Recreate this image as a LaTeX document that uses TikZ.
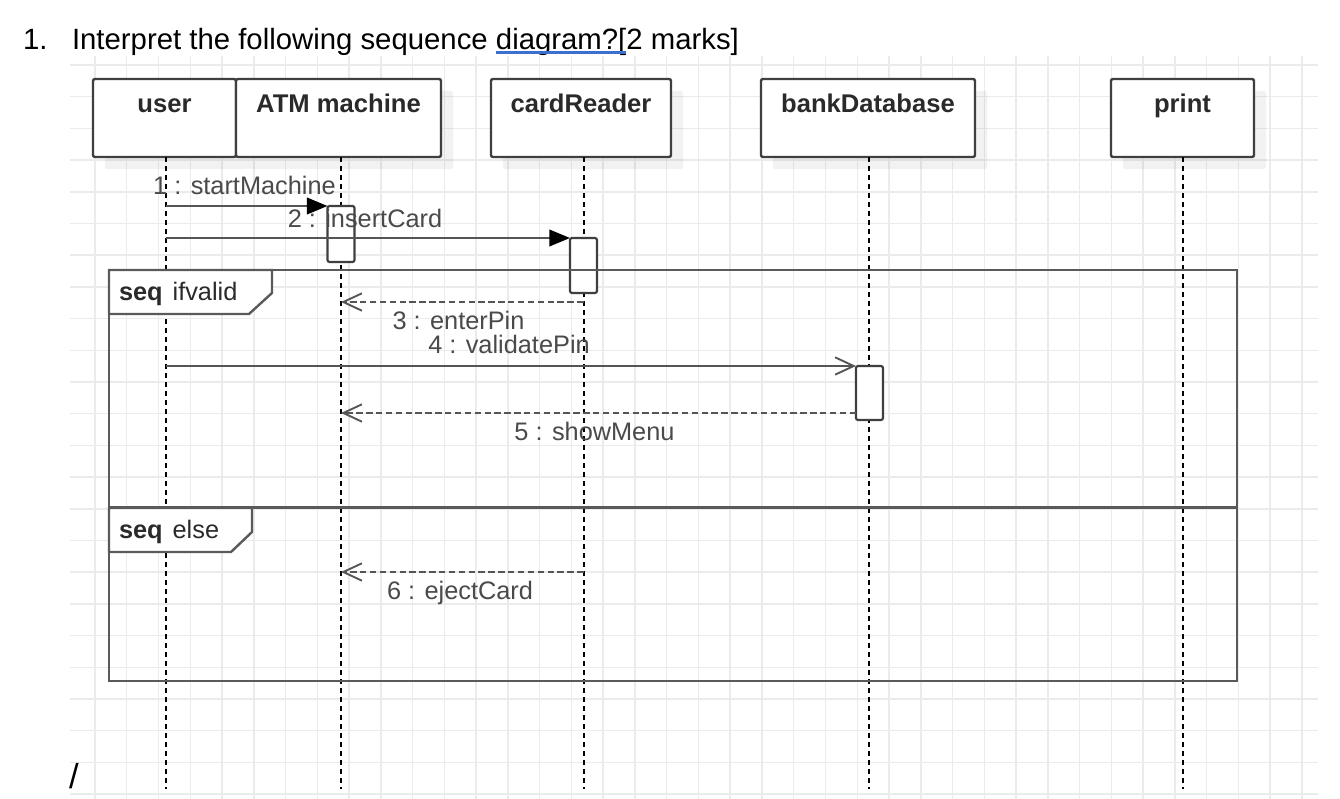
\documentclass[tikz,border=0pt]{standalone}
\usepackage{fontspec}
\setmainfont{Liberation Sans}
\usetikzlibrary{arrows.meta,shadows}
\definecolor{gridc}{HTML}{EBEBEB}
\definecolor{boxc}{HTML}{3F3F3F}
\definecolor{boxtext}{HTML}{2A2A2A}
\definecolor{framec}{HTML}{5A5A5A}
\definecolor{msgc}{HTML}{555555}
\definecolor{msgtext}{HTML}{4A4A4A}
\definecolor{ulblue}{HTML}{3D6FD0}
\newcommand\bxfont{\fontsize{19.2}{23}\selectfont\bfseries}
\newcommand\msgfont{\fontsize{19}{23}\selectfont}
\newcommand\ttlfont{\fontsize{22}{26}\selectfont}
\begin{document}
\begin{tikzpicture}[x=0.75pt,y=-0.75pt,
  every node/.style={inner sep=0pt,outer sep=0pt},
  gridline/.style={draw=gridc,line width=1.1pt},
  lbox/.style={draw=boxc,line width=1.8pt,fill=white,rounded corners=1.5pt,anchor=north west,
    text height=25.5pt,text depth=33pt,font=\bxfont,text=boxtext,minimum height=78*0.75pt,
    drop shadow={shadow xshift=9pt,shadow yshift=-9pt,fill=black,opacity=0.05}},
  actbox/.style={draw=boxc,line width=1.6pt,fill=white,rounded corners=1.5pt,anchor=north west,minimum width=27*0.75pt},
  fragframe/.style={draw=framec,line width=1.8pt,anchor=north west,minimum width=1128*0.75pt},
  fraglabel/.style={draw=framec,line width=1.8pt,fill=white,line join=miter},
  fragtext/.style={font=\msgfont,text=boxtext,anchor=base west},
  lifeline/.style={draw=black,line width=1.5pt,dash pattern=on 3.75pt off 3pt},
  syncmsg/.style={draw=msgc,line width=1.4pt,-{Triangle[length=15.5pt,width=12.5pt,color=black]}},
  callmsg/.style={draw=msgc,line width=1.4pt,-{Straight Barb[length=14pt,width=13pt]}},
  replymsg/.style={draw=msgc,line width=1.4pt,dash pattern=on 4.8pt off 2.6pt,-{Straight Barb[length=14pt,width=13pt]}},
  msglabel/.style={font=\msgfont,text=msgtext,anchor=base},
  ttl/.style={font=\ttlfont,text=black,anchor=base west}
]
\useasboundingbox (0,0) rectangle (1340,799);
\fill[white] (0,0) rectangle (1340,799);

% grid
\foreach \i in {0,...,38} \draw[gridline] ({95+31.76*\i},56) -- ({95+31.76*\i},799);
\foreach \j in {0,...,23} \draw[gridline] (70,{65+31.7*\j}) -- (1318,{65+31.7*\j});

% lifeline heads
\node[lbox,minimum width=143*0.75pt] (user) at (93,79) {user};
\node[lbox,minimum width=205*0.75pt] (atm) at (236,79) {ATM machine};
\node[lbox,minimum width=180*0.75pt] (card) at (491,79) {cardReader};
\node[lbox,minimum width=214*0.75pt] (bank) at (761,79) {bankDatabase};
\node[lbox,minimum width=143*0.75pt] (print) at (1111,79) {print};

% lifelines
\coordinate (uL) at ([xshift=1.1pt]user.south);
\coordinate (aL) at ([xshift=1.9pt]atm.south);
\coordinate (cL) at ([xshift=1.9pt]card.south);
\coordinate (bL) at ([xshift=1.1pt]bank.south);
\coordinate (pL) at ([xshift=0.4pt]print.south);
\coordinate (uB) at (uL |- 0,789);
\coordinate (aB) at (aL |- 0,789);
\coordinate (cB) at (cL |- 0,789);
\coordinate (bB) at (bL |- 0,789);
\coordinate (pB) at (pL |- 0,789);
\draw[lifeline] (uL) -- (uB);
\draw[lifeline] (aL) -- (aB);
\draw[lifeline] (cL) -- (cB);
\draw[lifeline] (bL) -- (bB);
\draw[lifeline] (pL) -- (pB);

% activations
\node[actbox,minimum height=56*0.75pt] (act1) at (327.5,206) {};
\node[actbox,minimum height=55*0.75pt] (act2) at (570,238) {};
\node[actbox,minimum height=54*0.75pt] (act3) at (856,366) {};

% combined fragments
\node[fragframe,minimum height=237*0.75pt] (fr1) at (109,270) {};
\node[fragframe,minimum height=173*0.75pt] (fr2) at (109,508) {};

% fragment labels
\draw[fraglabel] (109,270) -- (272,270) -- (272,293) -- (249,314) -- (109,314) -- cycle;
\node[fragtext] (f1) at (119,300) {\textbf{seq}\hspace{7.5pt}ifvalid};
\draw[fraglabel] (109,508) -- (252,508) -- (252,532) -- (231,552) -- (109,552) -- cycle;
\node[fragtext] (f2) at (119,538) {\textbf{seq}\hspace{7.5pt}else};

% messages
\coordinate (m1s) at (uL |- 0,206);
\draw[syncmsg] (m1s) -- (act1.north west);
\coordinate (m2s) at (uL |- 0,238);
\draw[syncmsg] (m2s) -- (act2.north west);
\coordinate (m3s) at (cL |- 0,302);
\coordinate (m3e) at (aL |- 0,302);
\draw[replymsg] (m3s) -- (m3e);
\coordinate (m4s) at (uL |- 0,366);
\draw[callmsg] (m4s) -- (act3.north west);
\coordinate (m5s) at (act3.west |- 0,413);
\coordinate (m5e) at (aL |- 0,413);
\draw[replymsg] (m5s) -- (m5e);
\coordinate (m6s) at (cL |- 0,572);
\coordinate (m6e) at (aL |- 0,572);
\draw[replymsg] (m6s) -- (m6e);

% message labels
\node[msglabel] (l1) at (244.5,195) {1 : startMachine};
\node[msglabel] (l2) at (365,227) {2 : insertCard};
\node[msglabel] (l3) at (458.5,329) {3 : enterPin};
\node[msglabel] (l4) at (509,353) {4 : validatePin};
\node[msglabel] (l5) at (594.5,440) {5 : showMenu};
\node[msglabel] (l6) at (460,599) {6 : ejectCard};

% title
\node[ttl] (num) at (23,50) {1.};
\node[ttl] (t1) at (72,50) {Interpret the following sequence};
\node[ttl] (t2) at ([xshift=6.1pt]t1.base east) {diagram?[};
\node[ttl] (t3) at (t2.base east) {2 marks]};
\draw[ulblue,line width=2.4pt] ([yshift=-2pt]t2.base west) -- ([yshift=-2pt]t2.base east);

% stray mark
\node[font=\fontsize{26}{30}\selectfont,anchor=base] (slash) at (74,788) {/};
\end{tikzpicture}
\end{document}
